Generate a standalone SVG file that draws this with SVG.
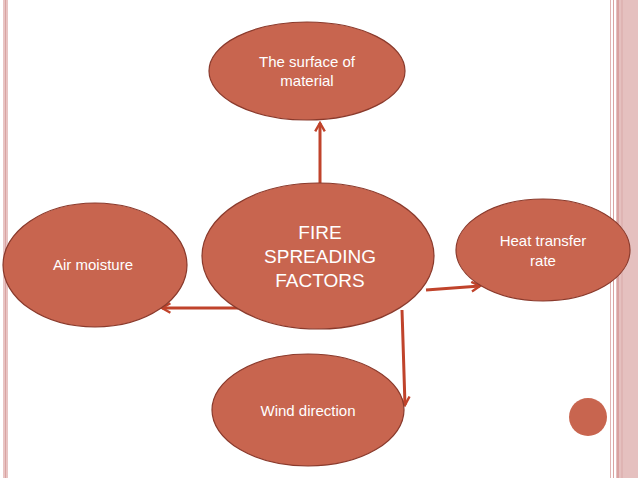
<svg xmlns="http://www.w3.org/2000/svg" width="638" height="478" viewBox="0 0 638 478">
<defs>
<style>
.n{fill:#c8654f;stroke:#8a3a2c;stroke-width:1.2}
.t{font-family:"Liberation Sans",Arial,sans-serif;fill:#fff;text-anchor:middle}
.c{stroke:#c0432b;stroke-width:3;fill:none}
</style>
<marker id="a" viewBox="0 0 10 10" refX="8" refY="5" markerWidth="4" markerHeight="4" orient="auto"><path d="M1,1 L8,5 L1,9" fill="none" stroke="#c0432b" stroke-width="2"/></marker>
</defs>
<rect width="638" height="478" fill="#fff"/>
<g id="borders">
<rect x="3" y="0" width="5" height="478" fill="#e8c4c3"/>
<line x1="5.5" y1="0" x2="5.5" y2="478" stroke="#d9a3a2" stroke-width="1"/>
<line x1="610.5" y1="0" x2="610.5" y2="478" stroke="#e0b4b3" stroke-width="1"/>
<line x1="613.5" y1="0" x2="613.5" y2="478" stroke="#d9a3a2" stroke-width="1"/>
<rect x="616" y="0" width="22" height="478" fill="#e5c0bf"/>
<line x1="618" y1="0" x2="618" y2="478" stroke="#d49a99" stroke-width="1.5"/>
<line x1="622" y1="0" x2="622" y2="478" stroke="#d9a8a7" stroke-width="1"/>
</g>
<g id="connectors">
<line class="c" x1="320" y1="183" x2="320" y2="123" marker-end="url(#a)"/>
<line class="c" x1="238" y1="308" x2="162" y2="308" marker-end="url(#a)"/>
<line class="c" x1="426" y1="290" x2="480" y2="286" marker-end="url(#a)"/>
<line class="c" x1="402" y1="310" x2="405" y2="405" marker-end="url(#a)"/>
</g>
<g id="n-surface"><ellipse class="n" cx="307" cy="71" rx="98" ry="49"/><text class="t" font-size="15" x="307" y="67">The surface of</text><text class="t" font-size="15" x="307" y="86">material</text></g>
<g id="n-air"><ellipse class="n" cx="95" cy="265" rx="92" ry="62"/><text class="t" font-size="15" x="93" y="270">Air moisture</text></g>
<g id="n-center"><ellipse class="n" cx="318" cy="256" rx="116" ry="73"/><text class="t" font-size="19" x="320" y="239">FIRE</text><text class="t" font-size="19" x="320" y="263">SPREADING</text><text class="t" font-size="19" x="320" y="287">FACTORS</text></g>
<g id="n-heat"><ellipse class="n" cx="543" cy="250" rx="87" ry="51"/><text class="t" font-size="15" x="543" y="246">Heat transfer</text><text class="t" font-size="15" x="543" y="266">rate</text></g>
<g id="n-wind"><ellipse class="n" cx="308" cy="410" rx="96" ry="56"/><text class="t" font-size="15" x="308" y="416">Wind direction</text></g>
<g id="dot"><circle cx="588" cy="417" r="19" fill="#c8654f"/></g>
</svg>
